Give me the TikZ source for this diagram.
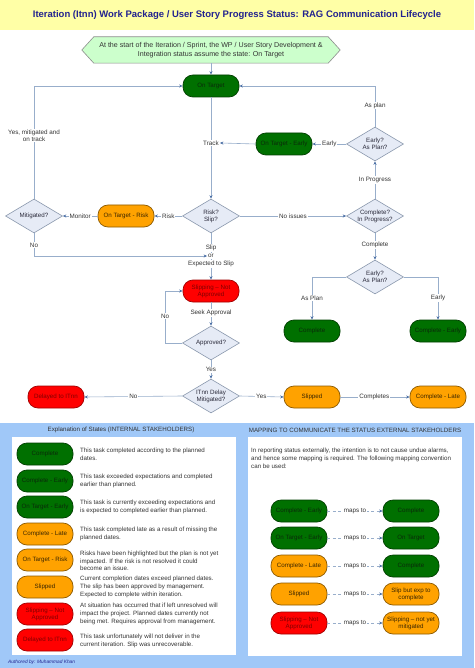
\documentclass[tikz,border=0pt]{standalone}
\usepackage{fontspec}
\setmainfont{Liberation Sans}
\usetikzlibrary{shapes.geometric,arrows.meta,backgrounds}
\definecolor{gfill}{HTML}{007000}
\definecolor{gdraw}{HTML}{003F00}
\definecolor{gtext}{HTML}{0A2A0A}
\definecolor{ofill}{HTML}{FFA200}
\definecolor{odraw}{HTML}{8C5A00}
\definecolor{otext}{HTML}{3B2600}
\definecolor{rfill}{HTML}{FF0000}
\definecolor{rdraw}{HTML}{A00000}
\definecolor{rtext}{HTML}{7F0000}
\definecolor{dfill}{HTML}{E6EBF6}
\definecolor{ddraw}{HTML}{8A98AD}
\definecolor{dtext}{HTML}{2B2B3B}
\definecolor{lcol}{HTML}{98AECB}
\definecolor{acol}{HTML}{4A6FA5}
\definecolor{ltext}{HTML}{333333}
\definecolor{ybg}{HTML}{FFFFA6}
\definecolor{bbg}{HTML}{A0C8F8}
\definecolor{hexfill}{HTML}{CCFFCC}
\definecolor{hexdraw}{HTML}{8C8C8C}
\definecolor{titlec}{HTML}{22228F}
\newcommand\myNodeFont{\fontsize{6.2}{6.9}\selectfont}
\newcommand\myLblFont{\fontsize{6.3}{7}\selectfont}
\newcommand\myDescFont{\fontsize{6.2}{7.7}\selectfont}
\begin{document}
\begin{tikzpicture}[x=1pt,y=-1pt,
  term/.style={rectangle, rounded corners=10pt, minimum width=56pt, minimum height=22pt, inner sep=0.5pt, align=center, font=\myNodeFont, line width=0.7pt},
  gterm/.style={term, fill=gfill, draw=gdraw, text=gtext},
  oterm/.style={term, fill=ofill, draw=odraw, text=otext},
  rterm/.style={term, fill=rfill, draw=rdraw, text=rtext},
  dec/.style={diamond, aspect=1.65, minimum width=57pt, minimum height=34pt, inner sep=-2.5pt, fill=dfill, draw=ddraw, line width=0.6pt, align=center, font=\myNodeFont, text=dtext},
  conn/.style={draw=lcol, line width=0.6pt, -{Stealth[length=3.5pt,width=3pt,color=acol]}},
  mapconn/.style={conn, dashed, dash pattern=on 3pt off 2.5pt},
  lbl/.style={fill=white, inner sep=0.8pt, font=\myLblFont, text=ltext, align=center},
  desc/.style={anchor=west, align=left, font=\myDescFont, text=ltext, inner sep=0pt},
  ptitle/.style={font=\fontsize{6.2}{7}\selectfont, text=ltext}
]
\useasboundingbox (0,0) rectangle (474,668);
\begin{scope}[on background layer]
  \fill[white] (0,0) rectangle (474,668);
  \fill[ybg] (0,0) rectangle (474,30);
  \fill[bbg] (0,423) rectangle (474,668);
  \fill[white] (12,437) rectangle (236,655);
  \fill[white] (248,437) rectangle (462,656);
\end{scope}

% title
\node[font=\bfseries\fontsize{9.5}{11}\selectfont, text=titlec] (title) at (237,15) {Iteration (Itnn) Work Package / User Story Progress Status: RAG Communication Lifecycle};

% start hexagon
\node[minimum width=234pt, minimum height=26pt, inner sep=0pt, align=center, font=\fontsize{7.1}{8.4}\selectfont, text=ltext] (start) at (211,50) {At the start of the Iteration / Sprint, the WP / User Story Development \&\\Integration status assume the state: On Target};
\begin{scope}[on background layer]
  \filldraw[fill=hexfill, draw=hexdraw, line width=0.6pt] (start.north west) -- (start.north east) -- ([xshift=12pt]start.east) -- (start.south east) -- (start.south west) -- ([xshift=-12pt]start.west) -- cycle;
\end{scope}

% flowchart nodes
\node[gterm] (ontarget) at (211,86) {On Target};
\node[gterm] (otearly) at (284,144) {On Target - Early};
\node[dec] (early1) at (375,144) {Early?\\As Plan?};
\node[dec] (compq) at (375,216) {Complete?\\In Progress?};
\node[dec] (risk) at (211,216) {Risk?\\Slip?};
\node[oterm] (otrisk) at (126,216) {On Target - Risk};
\node[dec] (mitig) at (34,216) {Mitigated?};
\node[dec] (early2) at (375,277) {Early?\\As Plan?};
\node[gterm] (cmpl) at (312,331) {Complete};
\node[gterm] (cmplE) at (438,331) {Complete - Early};
\node[rterm] (slipping) at (211,291) {Slipping -- Not\\Approved};
\node[dec] (approved) at (211,343) {Approved?};
\node[dec] (itnn) at (211,396) {ITnn Delay\\Mitigated?};
\node[rterm] (delayed) at (56,397) {Delayed to ITnn};
\node[oterm] (slipped) at (312,397) {Slipped};
\node[oterm] (cmplL) at (438,397) {Complete - Late};

% connectors
\draw[conn] (start.south) -- (ontarget.north);
\draw[conn] (mitig.north) |- (ontarget.west) node[lbl, pos=0.28] {Yes, mitigated and\\on track};
\draw[conn] (early1.north) |- (ontarget.east) node[lbl, pos=0.26] {As plan};
\draw[conn] (ontarget.south) -- (risk.north) node[lbl, pos=0.45] (track) {Track};
\draw[conn] (otearly.west) -- (track.east);
\draw[conn] (early1.west) -- (otearly.east) node[lbl, pos=0.5] {Early};
\draw[conn] (compq.north) -- (early1.south) node[lbl, pos=0.5] {In Progress};
\draw[conn] (risk.east) -- (compq.west) node[lbl, pos=0.5] {No issues};
\draw[conn] (compq.south) -- (early2.north) node[lbl, pos=0.45] {Complete};
\draw[conn] (early2.west) -| (cmpl.north) node[lbl, pos=0.745] {As Plan};
\draw[conn] (early2.east) -| (cmplE.north) node[lbl, pos=0.745] {Early};
\draw[conn] (risk.west) -- (otrisk.east) node[lbl, pos=0.5] {Risk};
\draw[conn] (otrisk.west) -- (mitig.east) node[lbl, pos=0.5] {Monitor};
\draw[conn] (risk.south) -- (slipping.north)
  node[lbl, pos=0.32] {Slip}
  node[lbl, pos=0.49] (orlbl) {or}
  node[lbl, pos=0.66] {Expected to Slip};
\draw[conn] (mitig.south) |- (orlbl.west) node[lbl, pos=0.26] {No};
\draw[conn] (slipping.south) -- (approved.north) node[lbl, pos=0.46] {Seek Approval};
\draw[conn] (approved.west) -- ++(-17,0) |- (slipping.west) node[lbl, pos=0.26] {No};
\draw[conn] (approved.south) -- (itnn.north) node[lbl, pos=0.5] {Yes};
\draw[conn] (itnn.west) -- (delayed.east) node[lbl, pos=0.5] {No};
\draw[conn] (itnn.east) -- (slipped.west) node[lbl, pos=0.49] {Yes};
\draw[conn] (slipped.east) -- (cmplL.west) node[lbl, pos=0.49] {Completes};

% bottom panels
\node[ptitle] (t1) at (121,430) {Explanation of States (INTERNAL STAKEHOLDERS)};
\node[ptitle] (t2) at (355,430) {MAPPING TO COMMUNICATE THE STATUS EXTERNAL STAKEHOLDERS};

\node[gterm] (e1) at (45,454) {Complete};
\node[desc] (d1) at (80,454) {This task completed according to the planned\\dates.};
\node[gterm] (e2) at (45,481) {Complete - Early};
\node[desc] (d2) at (80,481) {This task exceeded expectations and completed\\earlier than planned.};
\node[gterm] (e3) at (45,507) {On Target - Early};
\node[desc] (d3) at (80,507) {This task is currently exceeding expectations and\\is expected to completed earlier than planned.};
\node[oterm] (e4) at (45,534) {Complete - Late};
\node[desc] (d4) at (80,534) {This task completed late as a result of missing the\\planned dates.};
\node[oterm] (e5) at (45,560) {On Target - Risk};
\node[desc] (d5) at (80,561) {Risks have been highlighted but the plan is not yet\\impacted. If the risk is not resolved it could\\become an issue.};
\node[oterm] (e6) at (45,587) {Slipped};
\node[desc] (d6) at (80,587) {Current completion dates exceed planned dates.\\The slip has been approved by management.\\Expected to complete within iteration.};
\node[rterm] (e7) at (45,614) {Slipping -- Not\\Approved};
\node[desc] (d7) at (80,614) {At situation has occurred that if left unresolved will\\impact the project. Planned dates currently not\\being met. Requires approval from management.};
\node[rterm] (e8) at (45,640) {Delayed to ITnn};
\node[desc] (d8) at (80,641) {This task unfortunately will not deliver in the\\current iteration. Slip was unrecoverable.};

\node[desc, anchor=north west] (intro) at (251,448) {In reporting status externally, the intention is to not cause undue alarms,\\and hence some mapping is required. The following mapping convention\\can be used:};

\node[gterm] (m1a) at (299,511) {Complete - Early};
\node[gterm] (m1b) at (411,511) {Complete};
\node[gterm] (m2a) at (299,538) {On Target - Early};
\node[gterm] (m2b) at (411,538) {On Target};
\node[oterm] (m3a) at (299,566) {Complete - Late};
\node[gterm] (m3b) at (411,566) {Complete};
\node[oterm] (m4a) at (299,594) {Slipped};
\node[oterm] (m4b) at (411,594) {Slip but exp to\\complete};
\node[rterm] (m5a) at (299,623) {Slipping -- Not\\Approved};
\node[oterm] (m5b) at (411,623) {Slipping -- not yet\\mitigated};
\foreach \i in {1,...,5}{
  \draw[mapconn] (m\i a.east) -- (m\i b.west) node[lbl, pos=0.5] {maps to};
}

\node[anchor=west, font=\itshape\fontsize{4.8}{5.5}\selectfont, text=titlec, inner sep=0pt] (author) at (8,662) {Authored by: Muhammad Khan};
\end{tikzpicture}
\end{document}
